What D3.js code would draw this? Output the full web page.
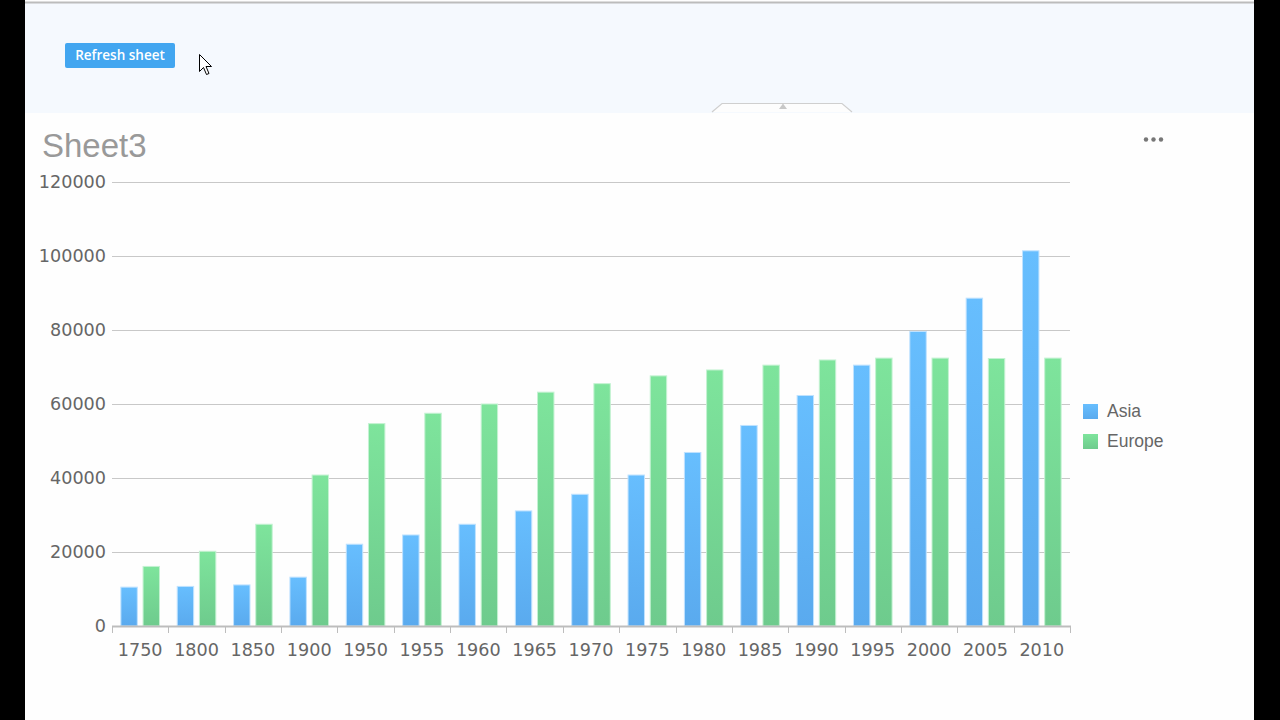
<!DOCTYPE html>
<html>
<head>
<meta charset="utf-8">
<script src="https://cdn.jsdelivr.net/npm/d3@7"></script>
<style>
  html, body { margin: 0; padding: 0; background: #000; }
  svg { display: block; }
</style>
</head>
<body>
<svg id="chart" width="1280" height="720"></svg>
<script>
const years = ["1750","1800","1850","1900","1950","1955","1960","1965","1970","1975","1980","1985","1990","1995","2000","2005","2010"];
const seriesNames = ["Asia", "Europe"];
const asia   = [10500, 10700, 11100, 13200, 22100, 24600, 27500, 31100, 35600, 40800, 46900, 54200, 62300, 70500, 79600, 88600, 101400];
const europe = [16100, 20200, 27500, 40800, 54700, 57500, 60000, 63200, 65500, 67600, 69200, 70500, 71900, 72400, 72400, 72300, 72400];
const yTicks = [0, 20000, 40000, 60000, 80000, 100000, 120000];
const title = "Sheet3";

const svg = d3.select("#chart");

// page frame
svg.append("rect").attr("x", 0).attr("y", 0).attr("width", 1280).attr("height", 720).attr("fill", "#000");
svg.append("rect").attr("x", 25).attr("y", 0).attr("width", 1229).attr("height", 720).attr("fill", "#fefefe");
svg.append("rect").attr("x", 25).attr("y", 3).attr("width", 1229).attr("height", 110).attr("fill", "#f5f9fe");
svg.append("line").attr("x1", 25).attr("x2", 1254).attr("y1", 2.5).attr("y2", 2.5).attr("stroke", "#bcbcbc").attr("stroke-width", 2);

// refresh button
svg.append("rect").attr("x", 65).attr("y", 43).attr("width", 110).attr("height", 25).attr("rx", 2)
  .attr("fill", "#42a6f0");
svg.append("text").attr("x", 120).attr("y", 60).attr("text-anchor", "middle")
  .attr("font-family", "'Open Sans', Lato, sans-serif").attr("font-weight", 600).attr("font-size", 13.5)
  .attr("fill", "#fff").text("Refresh sheet");

// mouse cursor
svg.append("path")
  .attr("d", "M199.5,54.5 L199.5,71.5 L203.5,67.5 L206.5,74.5 L209,73.5 L206,66.5 L211.5,66.5 Z")
  .attr("fill", "#fff").attr("stroke", "#000").attr("stroke-width", 1);

// collapse tab
svg.append("path")
  .attr("d", "M712,112 L722,103.5 L842,103.5 L852,112")
  .attr("fill", "#fdfdfd").attr("stroke", "#cfcfcf").attr("stroke-width", 1.2);
svg.append("path").attr("d", "M779,109 L783,103.5 L787,109 Z").attr("fill", "#c8c8c8");

// title
svg.append("text").attr("x", 42).attr("y", 157)
  .attr("font-family", "'Liberation Sans', Arial, sans-serif").attr("font-size", 33)
  .attr("fill", "#999").text(title);

// menu dots
svg.selectAll("circle.dot").data([0, 1, 2]).enter().append("circle")
  .attr("cx", d => 1146 + d * 7.5).attr("cy", 139.5).attr("r", 2.2).attr("fill", "#777");

// scales
const x0 = d3.scaleBand().domain(years).range([112, 1070]).paddingInner(0).paddingOuter(0);
const x1 = d3.scaleBand().domain(seriesNames).range([0, x0.bandwidth()]).paddingInner(0.26).paddingOuter(0.4);
const y = d3.scaleLinear().domain([0, 120000]).range([626, 182]);

// gradients
const defs = svg.append("defs");
const grads = [
  { id: "gAsia", top: "#67befe", bottom: "#5aaaee" },
  { id: "gEurope", top: "#7ee49c", bottom: "#6ecb8d" }
];
grads.forEach(g => {
  const lg = defs.append("linearGradient").attr("id", g.id).attr("x1", 0).attr("y1", 0).attr("x2", 0).attr("y2", 1);
  lg.append("stop").attr("offset", "0%").attr("stop-color", g.top);
  lg.append("stop").attr("offset", "100%").attr("stop-color", g.bottom);
});

// grid
svg.append("g").selectAll("line").data(yTicks.filter(t => t > 0)).enter().append("line")
  .attr("x1", 112).attr("x2", 1070)
  .attr("y1", d => Math.round(y(d)) + 0.5).attr("y2", d => Math.round(y(d)) + 0.5)
  .attr("stroke", "#c8c8c8").attr("stroke-width", 1);

// y labels
svg.append("g").selectAll("text").data(yTicks).enter().append("text")
  .attr("x", 106).attr("y", d => y(d)).attr("dy", "0.36em").attr("text-anchor", "end")
  .attr("font-family", "'DejaVu Sans', Verdana, sans-serif").attr("font-size", 17.6)
  .attr("fill", "#666").text(d => d);

// bars
const seriesData = { Asia: asia, Europe: europe };
const fills = { Asia: "url(#gAsia)", Europe: "url(#gEurope)" };
const strokes = { Asia: "#bfe2ff", Europe: "#c4f2d2" };
seriesNames.forEach(s => {
  svg.append("g").selectAll("rect").data(seriesData[s]).enter().append("rect")
    .attr("x", (d, i) => x0(years[i]) + x1(s))
    .attr("y", d => y(d))
    .attr("width", x1.bandwidth())
    .attr("height", d => y(0) - y(d))
    .attr("fill", fills[s])
    .attr("stroke", strokes[s]).attr("stroke-width", 1);
});

// x axis
const xAxisG = svg.append("g");
xAxisG.append("line").attr("x1", 112).attr("x2", 1071).attr("y1", 626.5).attr("y2", 626.5)
  .attr("stroke", "#bdbdbd").attr("stroke-width", 2);
const boundaries = years.map(yr => x0(yr)).concat([x0.range()[1]]);
xAxisG.selectAll("line.tick").data(boundaries).enter().append("line")
  .attr("x1", d => Math.round(d) + 0.5).attr("x2", d => Math.round(d) + 0.5)
  .attr("y1", 626).attr("y2", 633)
  .attr("stroke", "#bdbdbd").attr("stroke-width", 1);
xAxisG.selectAll("text").data(years).enter().append("text")
  .attr("x", d => x0(d) + x0.bandwidth() / 2).attr("y", 656)
  .attr("text-anchor", "middle")
  .attr("font-family", "'DejaVu Sans', Verdana, sans-serif").attr("font-size", 17.6)
  .attr("fill", "#666").text(d => d);

// legend
const legend = svg.append("g");
seriesNames.forEach((s, i) => {
  legend.append("rect").attr("x", 1083).attr("y", 404 + i * 30).attr("width", 15).attr("height", 15)
    .attr("fill", fills[s]);
  legend.append("text").attr("x", 1107).attr("y", 411 + i * 30).attr("dy", "0.35em")
    .attr("font-family", "'Liberation Sans', Arial, sans-serif").attr("font-size", 17.5)
    .attr("fill", "#666").text(s);
});
</script>
</body>
</html>
